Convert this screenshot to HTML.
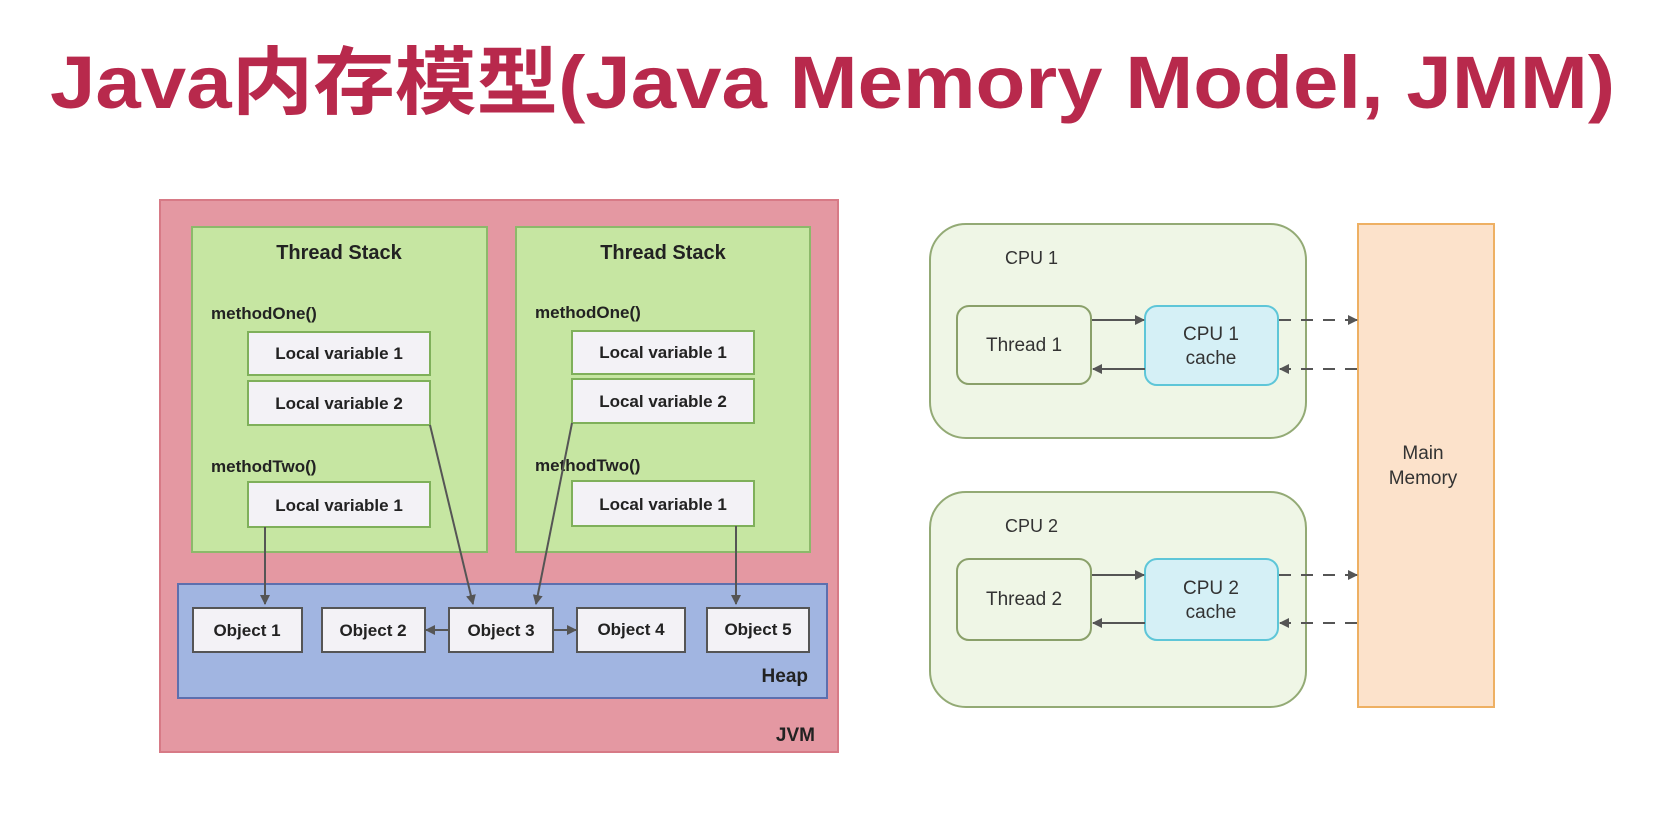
<!DOCTYPE html>
<html><head><meta charset="utf-8"><style>
html,body{margin:0;padding:0;background:#fff;width:1672px;height:823px;overflow:hidden}
svg{display:block}
</style></head><body>
<svg width="1672" height="823" viewBox="0 0 1672 823" xmlns="http://www.w3.org/2000/svg">
<defs>
<marker id="a" markerWidth="10" markerHeight="10" refX="9" refY="5" orient="auto" markerUnits="userSpaceOnUse"><path d="M0,0 L10,5 L0,10 z" fill="#555"/></marker>
</defs>
<text x="50" y="108" font-family="Liberation Sans, Noto Sans CJK SC, sans-serif" font-weight="bold" font-size="74" fill="#b8294c" textLength="1565" lengthAdjust="spacingAndGlyphs">Java内存模型(Java Memory Model, JMM)</text>

<g font-family="Liberation Sans, sans-serif" font-weight="bold" fill="#222">
<rect x="160" y="200" width="678" height="552" fill="#e498a2" stroke="#d77a86" stroke-width="2"/>
<rect x="192" y="227" width="295" height="325" fill="#c6e6a2" stroke="#8cb96a" stroke-width="2"/>
<rect x="516" y="227" width="294" height="325" fill="#c6e6a2" stroke="#8cb96a" stroke-width="2"/>
<text x="339" y="259" font-size="20" text-anchor="middle">Thread Stack</text>
<text x="663" y="259" font-size="20" text-anchor="middle">Thread Stack</text>
<text x="211" y="319" font-size="17">methodOne()</text>
<text x="211" y="472" font-size="17">methodTwo()</text>
<text x="535" y="318" font-size="17">methodOne()</text>
<text x="535" y="471" font-size="17">methodTwo()</text>
<g fill="#f3f2f6" stroke="#7fb05a" stroke-width="2">
<rect x="248" y="332" width="182" height="43"/><rect x="248" y="381" width="182" height="44"/><rect x="248" y="482" width="182" height="45"/>
<rect x="572" y="331" width="182" height="43"/><rect x="572" y="379" width="182" height="44"/><rect x="572" y="481" width="182" height="45"/>
</g>
<g font-size="17" text-anchor="middle">
<text x="339" y="359">Local variable 1</text><text x="339" y="409">Local variable 2</text><text x="339" y="511">Local variable 1</text>
<text x="663" y="358">Local variable 1</text><text x="663" y="407">Local variable 2</text><text x="663" y="510">Local variable 1</text>
</g>
<rect x="178" y="584" width="649" height="114" fill="#a1b5e1" stroke="#5d6fae" stroke-width="2"/>
<g fill="#f3f2f6" stroke="#555" stroke-width="2">
<rect x="193" y="608" width="109" height="44"/><rect x="322" y="608" width="103" height="44"/><rect x="449" y="608" width="104" height="44"/><rect x="577" y="608" width="108" height="44"/><rect x="707" y="608" width="102" height="44"/>
</g>
<g font-size="17" text-anchor="middle">
<text x="247" y="636">Object 1</text><text x="373" y="636">Object 2</text><text x="501" y="636">Object 3</text><text x="631" y="635">Object 4</text><text x="758" y="635">Object 5</text>
</g>
<text x="808" y="682" font-size="19" text-anchor="end">Heap</text>
<text x="815" y="741" font-size="19" text-anchor="end">JVM</text>
<g stroke="#555" stroke-width="2" fill="none" marker-end="url(#a)">
<line x1="265" y1="527" x2="265" y2="604"/>
<line x1="430" y1="425" x2="473" y2="604"/>
<line x1="572" y1="423" x2="536" y2="604"/>
<line x1="736" y1="526" x2="736" y2="604"/>
<line x1="449" y1="630" x2="426" y2="630"/>
<line x1="553" y1="630" x2="576" y2="630"/>
</g>
</g>

<g font-family="Liberation Sans, sans-serif" fill="#333">
<rect x="930" y="224" width="376" height="214" rx="36" fill="#eff6e6" stroke="#93aa75" stroke-width="2"/>
<rect x="930" y="492" width="376" height="215" rx="36" fill="#eff6e6" stroke="#93aa75" stroke-width="2"/>
<rect x="1358" y="224" width="136" height="483" fill="#fce2cb" stroke="#eeb063" stroke-width="2"/>
<text x="1005" y="264" font-size="18">CPU 1</text>
<text x="1005" y="532" font-size="18">CPU 2</text>
<rect x="957" y="306" width="134" height="78" rx="12" fill="#eff6e6" stroke="#8aa06a" stroke-width="2"/>
<rect x="957" y="559" width="134" height="81" rx="12" fill="#eff6e6" stroke="#8aa06a" stroke-width="2"/>
<rect x="1145" y="306" width="133" height="79" rx="12" fill="#d5f0f6" stroke="#5ec6d8" stroke-width="2"/>
<rect x="1145" y="559" width="133" height="81" rx="12" fill="#d5f0f6" stroke="#5ec6d8" stroke-width="2"/>
<g font-size="19" text-anchor="middle">
<text x="1024" y="351">Thread 1</text><text x="1024" y="605">Thread 2</text>
<text x="1211" y="340">CPU 1</text><text x="1211" y="364">cache</text>
<text x="1211" y="594">CPU 2</text><text x="1211" y="618">cache</text>
<text x="1423" y="459">Main</text><text x="1423" y="484">Memory</text>
</g>
<g stroke="#555" stroke-width="2" fill="none" marker-end="url(#a)">
<line x1="1092" y1="320" x2="1144" y2="320"/><line x1="1145" y1="369" x2="1093" y2="369"/>
<line x1="1092" y1="575" x2="1144" y2="575"/><line x1="1145" y1="623" x2="1093" y2="623"/>
<g stroke-dasharray="12,10">
<line x1="1279" y1="320" x2="1357" y2="320"/><line x1="1357" y1="369" x2="1280" y2="369"/>
<line x1="1279" y1="575" x2="1357" y2="575"/><line x1="1357" y1="623" x2="1280" y2="623"/>
</g>
</g>
</g>
</svg>
</body></html>
